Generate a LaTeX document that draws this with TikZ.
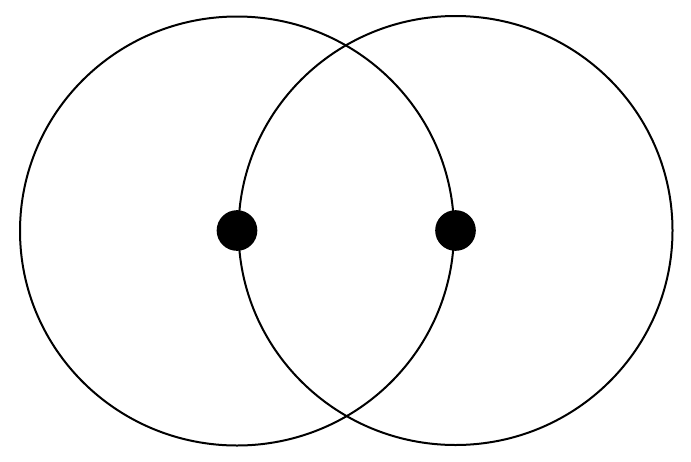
\documentclass[tikz,border=0pt]{standalone}
\usepackage{tikz}
\usetikzlibrary{calc}
\tikzset{dot/.style={circle,fill=black,inner sep=0pt,minimum size=30.5pt}}
\begin{document}
\begin{tikzpicture}[line cap=round,line join=round,x=0.75pt,y=-0.75pt]
\useasboundingbox (0,0) rectangle (691,461);
\draw [line width=1.5pt] (237,231) ellipse (217 and 214.5);
\draw [line width=1.5pt] (455.5,230.5) ellipse (217 and 214.5);
\node[dot] (p) at (237,230.5) {};
\node[dot] (q) at (455.5,230.5) {};
\end{tikzpicture}
\end{document}
